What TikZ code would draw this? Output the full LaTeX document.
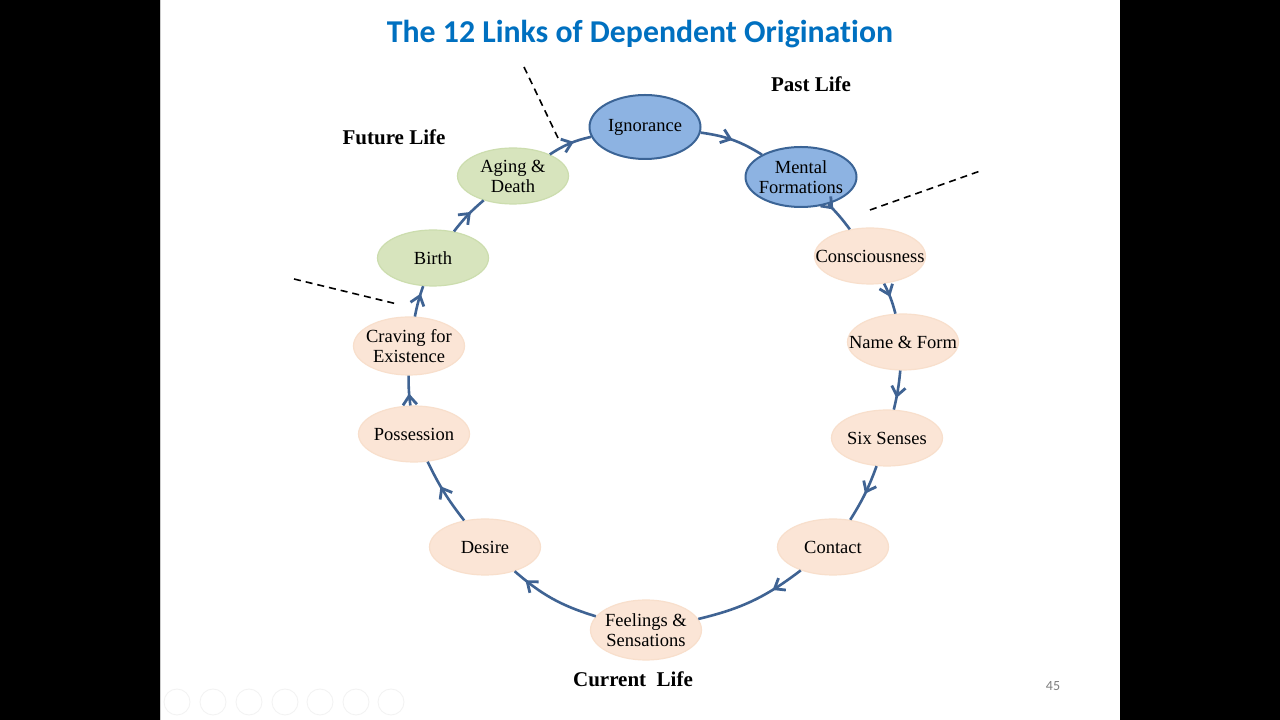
\documentclass[tikz,border=0pt]{standalone}
\usepackage{fontspec}
\setmainfont{Liberation Serif}
\newfontfamily\titlefont[Ligatures=NoCommon]{Carlito}
\usetikzlibrary{shapes.geometric,arrows.meta,decorations.markings}
\definecolor{titleblue}{HTML}{0070C0}
\definecolor{linkblue}{HTML}{3F6393}
\definecolor{bluefill}{HTML}{8DB3E2}
\definecolor{blueedge}{HTML}{3B6496}
\definecolor{peachfill}{HTML}{FBE5D6}
\definecolor{peachedge}{HTML}{F8DFCC}
\definecolor{greenfill}{HTML}{D7E4BD}
\definecolor{greenedge}{HTML}{CCDDAE}
\definecolor{iconcol}{HTML}{F2F2F2}
\tikzset{
  link/.style={ellipse,inner sep=0pt,minimum width=111pt,minimum height=56pt,line width=1.2pt},
  linktext/.style={font=\fontsize{18.5}{20}\selectfont,align=center,inner sep=0pt},
  bluelink/.style={link,fill=bluefill,draw=blueedge,line width=2pt,minimum height=64pt},
  peachlink/.style={link,fill=peachfill,draw=peachedge},
  greenlink/.style={link,fill=greenfill,draw=greenedge},
  conn/.style={draw=linkblue,line width=2.6pt},
  tipat/.style={postaction={decorate,decoration={markings,
     mark=at position #1 with {\arrow{Straight Barb[length=9pt,width=14pt,line width=2.8pt,color=linkblue]}}}}},
  lifelabel/.style={font=\fontsize{21}{23}\selectfont\bfseries},
  divider/.style={draw=black,line width=1.6pt,dash pattern=on 7pt off 5pt},
  icon/.style={circle,draw=iconcol,line width=0.8pt,minimum size=26pt,inner sep=0pt}
}
\begin{document}
\begin{tikzpicture}[x=1pt,y=1pt]
\useasboundingbox (0,0) rectangle (1280,720);
\fill[black] (0,0) rectangle (160,720);
\fill[black] (1120,0) rectangle (1280,720);
\fill[white] (160,0) rectangle (1120,720);
\draw[gray!40,line width=0.6pt] (160.3,0) -- (160.3,720);

\node[font=\titlefont\fontsize{31.8}{36}\selectfont\bfseries,text=titleblue] (title) at (640,686) {The 12 Links of Dependent Origination};

% dividers
\coordinate (d1a) at (524,653); \coordinate (d1b) at (558,582);
\coordinate (d2a) at (870,510); \coordinate (d2b) at (983,550);
\coordinate (d3a) at (294,441); \coordinate (d3b) at (397,416);
\draw[divider] (d1a) -- (d1b);
\draw[divider] (d2a) -- (d2b);
\draw[divider] (d3a) -- (d3b);

% nodes
\node[bluelink,label={[linktext]center:Ignorance}] (ign) at (645,593) {};
\node[bluelink,minimum height=60pt,label={[linktext]center:Mental\\Formations}] (men) at (801,543) {};
\node[peachlink,label={[linktext]center:Consciousness}] (con) at (870,464) {};
\node[peachlink,label={[linktext]center:Name \& Form}] (nam) at (903,378) {};
\node[peachlink,label={[linktext]center:Six Senses}] (six) at (887,282) {};
\node[peachlink,label={[linktext]center:Contact}] (cont) at (833,173) {};
\node[peachlink,minimum height=60pt,label={[linktext]center:Feelings \&\\Sensations}] (feel) at (646,90) {};
\node[peachlink,label={[linktext]center:Desire}] (des) at (485,173) {};
\node[peachlink,label={[linktext]center:Possession}] (pos) at (414,286) {};
\node[peachlink,minimum height=58pt,label={[linktext]center:Craving for\\Existence}] (crav) at (409,374) {};
\node[greenlink,label={[linktext]center:Birth}] (birth) at (433,462) {};
\node[greenlink,label={[linktext]center:Aging \&\\Death}] (aging) at (513,544) {};

% connectors
\draw[conn,tipat=0.5] (ign) to[bend left=12] (men);
\draw[conn,tipat=0.22] (men) to[bend left=4] (con);
\draw[conn,tipat=0.45] (con) to[bend left=6] (nam);
\draw[conn,tipat=0.7] (nam) to[bend left=4] (six);
\draw[conn,tipat=0.5] (six) to[bend left=6] (cont);
\draw[conn,tipat=0.3] (cont) to[bend left=12] (feel);
\draw[conn,tipat=0.85] (feel) to[bend left=12] (des);
\draw[conn,tipat=0.6] (des) to[bend left=6] (pos);
\draw[conn,tipat=0.4] (pos) to[bend left=4] (crav);
\draw[conn,tipat=0.75] (crav) to[bend left=4] (birth);
\draw[conn,tipat=0.6] (birth) to[bend left=6] (aging);
\draw[conn,tipat=0.6] (aging) to[bend left=10] (ign);

% life labels
\node[lifelabel] (past) at (811,636) {Past Life};
\node[lifelabel] (future) at (394,583) {Future Life};
\node[lifelabel] (current) at (633,41) {Current\ \ Life};

% page number
\node[font=\titlefont\fontsize{14}{16}\selectfont,text=gray] (page) at (1053,34) {45};

% faint toolbar
\foreach \i/\x in {1/177,2/213,3/249,4/285,5/320,6/356,7/391}
  \node[icon] (tb\i) at (\x,18) {};
\end{tikzpicture}
\end{document}
